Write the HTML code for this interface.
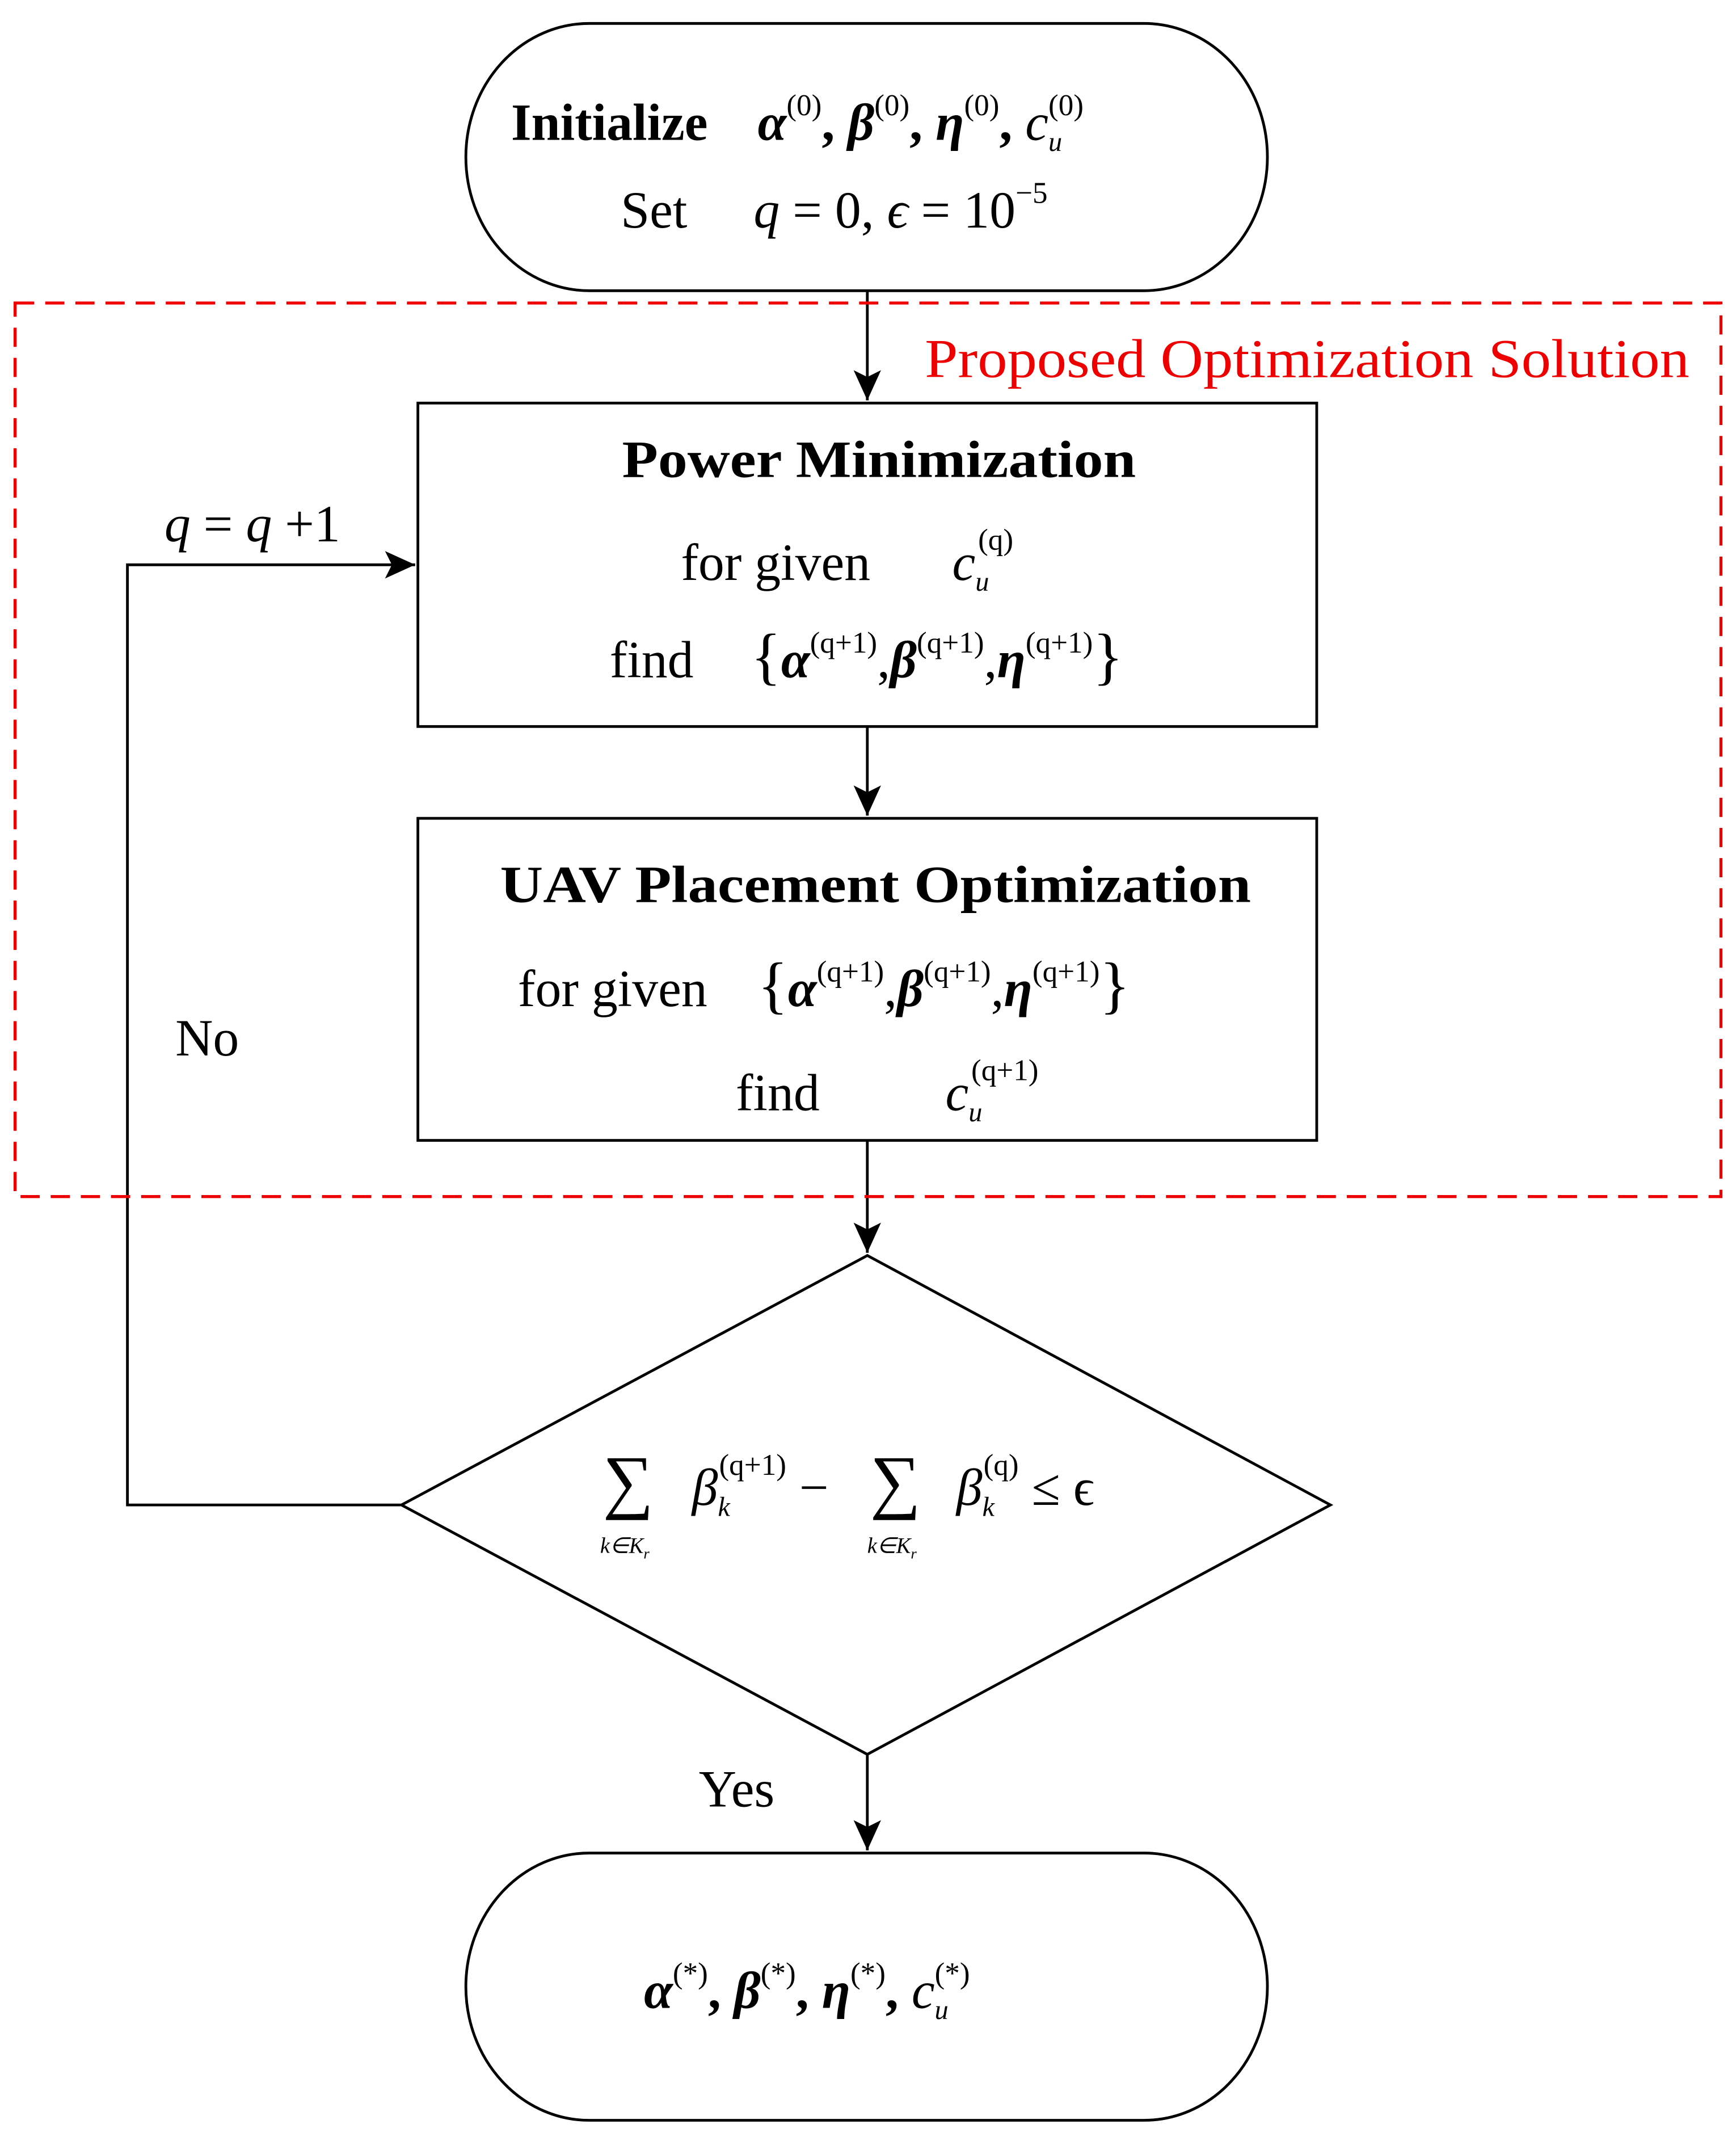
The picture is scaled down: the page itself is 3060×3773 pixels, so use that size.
<!DOCTYPE html>
<html><head><meta charset="utf-8"><style>html,body{margin:0;padding:0;background:#fff}svg{display:block}</style></head>
<body>
<svg width="3060" height="3773" viewBox="0 0 1267 1562" xmlns="http://www.w3.org/2000/svg" xml:space="preserve" font-family="Liberation Serif, serif">
<defs><marker id="b" markerWidth="24" markerHeight="24" refX="22" refY="12" orient="auto" markerUnits="userSpaceOnUse"><path d="M0,2 L22,12 L0,22 L5,12Z" fill="#000"/></marker></defs>
<g fill="none" stroke="#000" stroke-width="2">
<path d="M430,17 H835 A90,97.5 0 0 1 835,212 H430 A90,97.5 0 0 1 430,17Z"/>
<path d="M430,1352 H835 A90,97.5 0 0 1 835,1547 H430 A90,97.5 0 0 1 430,1352Z"/>
<rect x="305" y="294" width="656" height="236"/>
<rect x="305" y="597" width="656" height="235"/>
<path d="M633,916 L971,1098 L633,1280 L293,1098Z"/>
<line x1="633" y1="212" x2="633" y2="292" marker-end="url(#b)"/>
<line x1="633" y1="530" x2="633" y2="595" marker-end="url(#b)"/>
<line x1="633" y1="832" x2="633" y2="914" marker-end="url(#b)"/>
<line x1="633" y1="1280" x2="633" y2="1350" marker-end="url(#b)"/>
<path d="M293,1098 H93 V412 H303" marker-end="url(#b)"/>
</g>
<rect x="11" y="221" width="1245" height="652" fill="none" stroke="#e00" stroke-width="2.2" stroke-dasharray="14,8"/>
<g font-size="38" fill="#000">
<text x="373" y="102" font-weight="bold">Initialize</text>
<text x="553" y="102" font-weight="bold"><tspan font-style="italic">α</tspan><tspan font-size="22" font-weight="normal" dy="-18">(0)</tspan><tspan dy="18">,   </tspan><tspan font-style="italic">β</tspan><tspan font-size="22" font-weight="normal" dy="-18">(0)</tspan><tspan dy="18">,    </tspan><tspan font-style="italic">η</tspan><tspan font-size="22" font-weight="normal" dy="-18">(0)</tspan><tspan dy="18">,   </tspan><tspan font-style="italic" font-weight="normal">c</tspan><tspan font-size="20" font-style="italic" font-weight="normal" dy="8">u</tspan><tspan font-size="22" font-weight="normal" dx="-10" dy="-26">(0)</tspan></text>
<text x="453" y="166">Set</text>
<text x="550" y="166"><tspan font-style="italic">q</tspan> = 0, <tspan font-style="italic">ϵ</tspan> = 10<tspan font-size="22" dy="-18">−5</tspan></text>
<text x="675" y="275" fill="#e00" font-size="40" textLength="558" lengthAdjust="spacingAndGlyphs">Proposed Optimization Solution</text>
<text x="454" y="348" font-weight="bold" textLength="375" lengthAdjust="spacingAndGlyphs">Power Minimization</text>
<text x="497" y="423">for given</text>
<text x="695" y="423" font-style="italic">c<tspan font-size="20" dy="8">u</tspan><tspan font-size="22" font-style="normal" dx="-8" dy="-30">(q)</tspan></text>
<text x="445" y="494">find</text>
<text x="548" y="494"><tspan font-size="46">{</tspan><tspan font-style="italic" font-weight="bold">α</tspan><tspan font-size="22" dy="-18">(q+1)</tspan><tspan dy="18">,</tspan><tspan font-style="italic" font-weight="bold">β</tspan><tspan font-size="22" dy="-18">(q+1)</tspan><tspan dy="18">,</tspan><tspan font-style="italic" font-weight="bold">η</tspan><tspan font-size="22" dy="-18">(q+1)</tspan><tspan font-size="46" dy="18">}</tspan></text>
<text x="365" y="658" font-weight="bold" textLength="548" lengthAdjust="spacingAndGlyphs">UAV Placement Optimization</text>
<text x="378" y="734">for given</text>
<text x="553" y="734"><tspan font-size="46">{</tspan><tspan font-style="italic" font-weight="bold">α</tspan><tspan font-size="22" dy="-18">(q+1)</tspan><tspan dy="18">,</tspan><tspan font-style="italic" font-weight="bold">β</tspan><tspan font-size="22" dy="-18">(q+1)</tspan><tspan dy="18">,</tspan><tspan font-style="italic" font-weight="bold">η</tspan><tspan font-size="22" dy="-18">(q+1)</tspan><tspan font-size="46" dy="18">}</tspan></text>
<text x="537" y="810">find</text>
<text x="690" y="810" font-style="italic">c<tspan font-size="20" dy="8">u</tspan><tspan font-size="22" font-style="normal" dx="-8" dy="-30">(q+1)</tspan></text>
<text x="120" y="395"><tspan font-style="italic">q</tspan> = <tspan font-style="italic">q</tspan> +1</text>
<text x="128" y="770">No</text>
<text x="510" y="1318">Yes</text>
<text x="440" y="1098" font-size="52">∑</text>
<text x="438" y="1133" font-size="16" font-style="italic">k∈K<tspan font-size="11" dy="4">r</tspan></text>
<text x="505" y="1098" font-style="italic">β<tspan font-size="20" dy="8">k</tspan><tspan font-size="22" font-style="normal" dx="-8" dy="-30">(q+1)</tspan><tspan font-style="normal" dy="22"> −</tspan></text>
<text x="635" y="1098" font-size="52">∑</text>
<text x="633" y="1133" font-size="16" font-style="italic">k∈K<tspan font-size="11" dy="4">r</tspan></text>
<text x="698" y="1098" font-style="italic">β<tspan font-size="20" dy="8">k</tspan><tspan font-size="22" font-style="normal" dx="-8" dy="-30">(q)</tspan><tspan font-style="normal" dy="22"> ≤ ϵ</tspan></text>
<text x="470" y="1465" font-weight="bold"><tspan font-style="italic">α</tspan><tspan font-size="22" font-weight="normal" dy="-18">(*)</tspan><tspan dy="18">,   </tspan><tspan font-style="italic">β</tspan><tspan font-size="22" font-weight="normal" dy="-18">(*)</tspan><tspan dy="18">,   </tspan><tspan font-style="italic">η</tspan><tspan font-size="22" font-weight="normal" dy="-18">(*)</tspan><tspan dy="18">,   </tspan><tspan font-style="italic" font-weight="normal">c</tspan><tspan font-size="20" font-style="italic" font-weight="normal" dy="8">u</tspan><tspan font-size="22" font-weight="normal" dx="-10" dy="-26">(*)</tspan></text>
</g>
</svg>
</body></html>
